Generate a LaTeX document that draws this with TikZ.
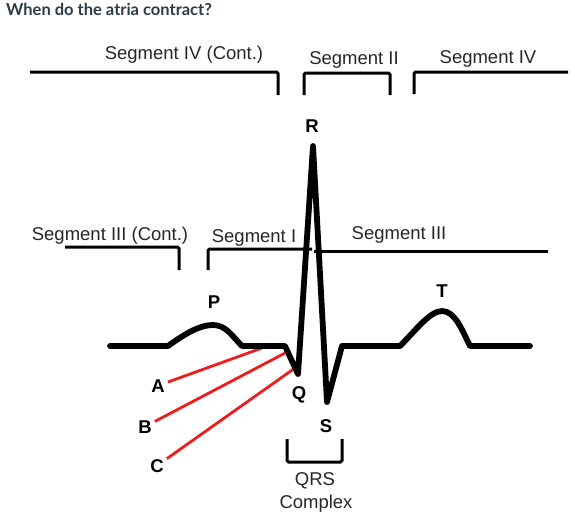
\documentclass[tikz,border=0pt]{standalone}
\usepackage{fontspec}
\setmainfont{Liberation Sans}
\newfontfamily\headfont{Lato}
\definecolor{headgray}{HTML}{2D3B45}
\definecolor{leadred}{HTML}{EE1C1C}
\tikzset{
  wave/.style={line width=5.8pt, line join=round, line cap=round},
  bracket/.style={line width=3pt, rounded corners=1.5pt},
  lead/.style={leadred, line width=2.8pt},
  seglabel/.style={anchor=base, inner sep=0pt, text=black!85,
    font=\fontsize{18.5}{22}\selectfont},
  peak/.style={anchor=base, inner sep=3pt, font=\fontsize{18.5}{22}\selectfont\bfseries}
}
\begin{document}
\begin{tikzpicture}[x=1pt,y=-1pt]
  \useasboundingbox (0,0) rectangle (575,525);
  \node[anchor=base west, inner sep=0pt, text=headgray,
    font=\headfont\bfseries\fontsize{16.5}{19}\selectfont] (title) at (6,15.5) {When do the atria contract?};
  % segment labels
  \draw
    (184,59) node[seglabel] (seg4c){Segment IV (Cont.)}
    (354,64) node[seglabel] (seg2){Segment II}
    (488,63) node[seglabel] (seg4){Segment IV}
    (110,240) node[seglabel] (seg3c){Segment III (Cont.)}
    (254,242) node[seglabel] (seg1){Segment I}
    (399,239) node[seglabel] (seg3){Segment III}
    (315,485) node[seglabel] (qrs){QRS}
    (316,508) node[seglabel] (complex){Complex};
  % brackets
  \begin{scope}[bracket]
    \draw (30,72) -- (278,72) -- (278,95);
    \draw (304,95) -- (304,73) -- (390,73) -- (390,95);
    \draw (414,94) -- (414,72) -- (568,72);
    \draw (65,247) -- (179,247) -- (179,270);
    \draw (208,270) -- (208,249) -- (312,249);
    \draw (314,251) -- (548,251);
    \draw (287,439) -- (287,462) -- (342,462) -- (342,439);
  \end{scope}
  % wave labels
  \draw
    (214,308) node[peak] (P){P}
    (312,132) node[peak] (R){R}
    (299,399) node[peak] (Q){Q}
    (326,432) node[peak] (S){S}
    (442,297) node[peak] (T){T}
    (158,392) node[peak] (A){A}
    (145,433) node[peak] (B){B}
    (157,472) node[peak] (C){C};
  \coordinate (ptA) at (262,348);
  \coordinate (ptB) at (287,352);
  \coordinate (ptC) at (295,368);
  \begin{scope}[lead]
    \draw (A) -- (ptA);
    \draw (B) -- (ptB);
    \draw (C) -- (ptC);
  \end{scope}
  % ECG trace
  \draw[wave] (110,346) -- (168,346)
    .. controls (186,333) and (200,325) .. (213,325)
    .. controls (226,325) and (232,336) .. (242,346)
    -- (285,346) -- (298,374) -- (313,146) -- (327,402) -- (342,346) -- (400,346)
    .. controls (416,330) and (430,311) .. (442,311)
    .. controls (455,311) and (462,330) .. (470,346) -- (530,346);
\end{tikzpicture}
\end{document}
